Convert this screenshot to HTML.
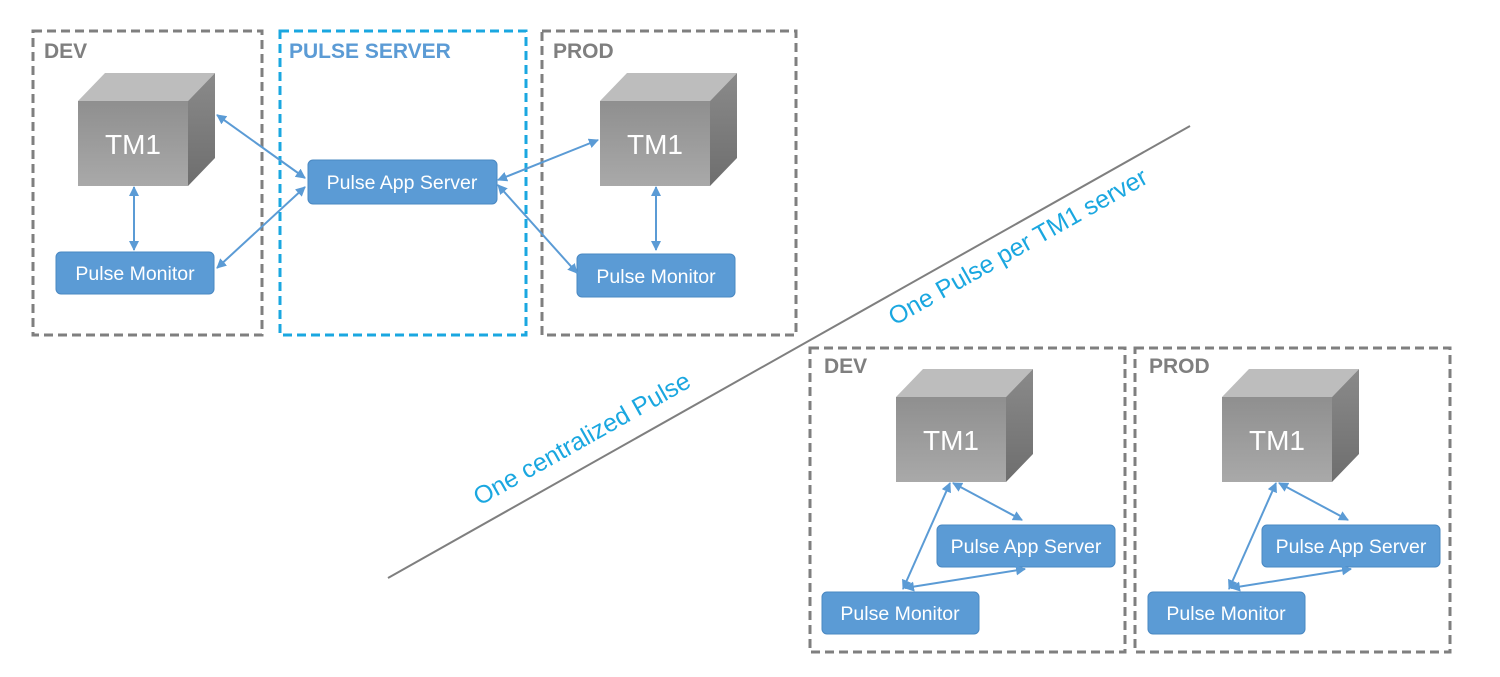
<!DOCTYPE html>
<html><head><meta charset="utf-8"><style>
body{margin:0;background:#fff;width:1500px;height:672px;overflow:hidden;font-family:"Liberation Sans",sans-serif}
</style></head><body>
<svg width="1500" height="672" viewBox="0 0 1500 672" xmlns="http://www.w3.org/2000/svg">
<defs>
<linearGradient id="gf" x1="0" y1="0" x2="0" y2="1"><stop offset="0" stop-color="#8f8f8f"/><stop offset="1" stop-color="#a9a9a9"/></linearGradient>
<linearGradient id="gs" x1="0" y1="0" x2="0" y2="1"><stop offset="0" stop-color="#8a8a8a"/><stop offset="1" stop-color="#6e6e6e"/></linearGradient>
<marker id="a" viewBox="0 0 10 10" refX="9" refY="5" markerWidth="5" markerHeight="5" orient="auto-start-reverse"><path d="M0,0 L10,5 L0,10 z" fill="#5b9bd5"/></marker>
<g id="cube">
<polygon points="0,28 27,0 137,0 110,28" fill="#bdbdbd"/>
<polygon points="110,28 137,0 137,85 110,113" fill="url(#gs)"/>
<rect x="0" y="28" width="110" height="85" fill="url(#gf)"/>
<text x="55" y="81" font-size="28" fill="#fff" text-anchor="middle">TM1</text>
</g>
</defs>
<g fill="none" stroke-width="3" stroke-dasharray="9,5">
<rect x="33" y="31" width="229" height="304" stroke="#7f7f7f"/>
<rect x="280" y="31" width="246" height="304" stroke="#1aa7e0"/>
<rect x="542" y="31" width="254" height="304" stroke="#7f7f7f"/>
<rect x="810" y="348" width="315" height="304" stroke="#7f7f7f"/>
<rect x="1135" y="348" width="315" height="304" stroke="#7f7f7f"/>
</g>
<g font-weight="bold" font-size="21">
<text x="44" y="58" fill="#7f7f7f">DEV</text>
<text x="289" y="58" fill="#5b9bd5">PULSE SERVER</text>
<text x="553" y="58" fill="#7f7f7f">PROD</text>
<text x="824" y="373" fill="#7f7f7f">DEV</text>
<text x="1149" y="373" fill="#7f7f7f">PROD</text>
</g>
<use href="#cube" x="78" y="73"/>
<use href="#cube" x="600" y="73"/>
<use href="#cube" x="896" y="369"/>
<use href="#cube" x="1222" y="369"/>
<g fill="#5b9bd5" stroke="#4a88c2" stroke-width="1">
<rect x="56" y="252" width="158" height="42" rx="5"/>
<rect x="308" y="160" width="189" height="44" rx="5"/>
<rect x="577" y="254" width="158" height="43" rx="5"/>
<rect x="937" y="525" width="178" height="42" rx="5"/>
<rect x="822" y="592" width="157" height="42" rx="5"/>
<rect x="1262" y="525" width="178" height="42" rx="5"/>
<rect x="1148" y="592" width="157" height="42" rx="5"/>
</g>
<g fill="#fff" font-size="19.5" text-anchor="middle">
<text x="135" y="280">Pulse Monitor</text>
<text x="402" y="189">Pulse App Server</text>
<text x="656" y="283">Pulse Monitor</text>
<text x="1026" y="553">Pulse App Server</text>
<text x="900" y="620">Pulse Monitor</text>
<text x="1351" y="553">Pulse App Server</text>
<text x="1226" y="620">Pulse Monitor</text>
</g>
<g stroke="#5b9bd5" stroke-width="2" marker-start="url(#a)" marker-end="url(#a)">
<line x1="217" y1="115" x2="305" y2="178"/>
<line x1="217" y1="268" x2="305" y2="187"/>
<line x1="134" y1="187" x2="134" y2="250"/>
<line x1="498" y1="180" x2="598" y2="140"/>
<line x1="498" y1="185" x2="577" y2="273"/>
<line x1="656" y1="187" x2="656" y2="250"/>
<line x1="950" y1="483" x2="903" y2="589"/>
<line x1="953" y1="483" x2="1022" y2="520"/>
<line x1="905" y1="588" x2="1025" y2="569"/>
<line x1="1276" y1="483" x2="1229" y2="589"/>
<line x1="1279" y1="483" x2="1348" y2="520"/>
<line x1="1231" y1="588" x2="1351" y2="569"/>
</g>
<line x1="388" y1="578" x2="1190" y2="126" stroke="#7f7f7f" stroke-width="2"/>
<g fill="#1aa7e0" font-size="25" text-anchor="middle">
<text transform="translate(1022,254) rotate(-29.4)">One Pulse per TM1 server</text>
<text transform="translate(586,446) rotate(-29.4)">One centralized Pulse</text>
</g>
</svg>
</body></html>
